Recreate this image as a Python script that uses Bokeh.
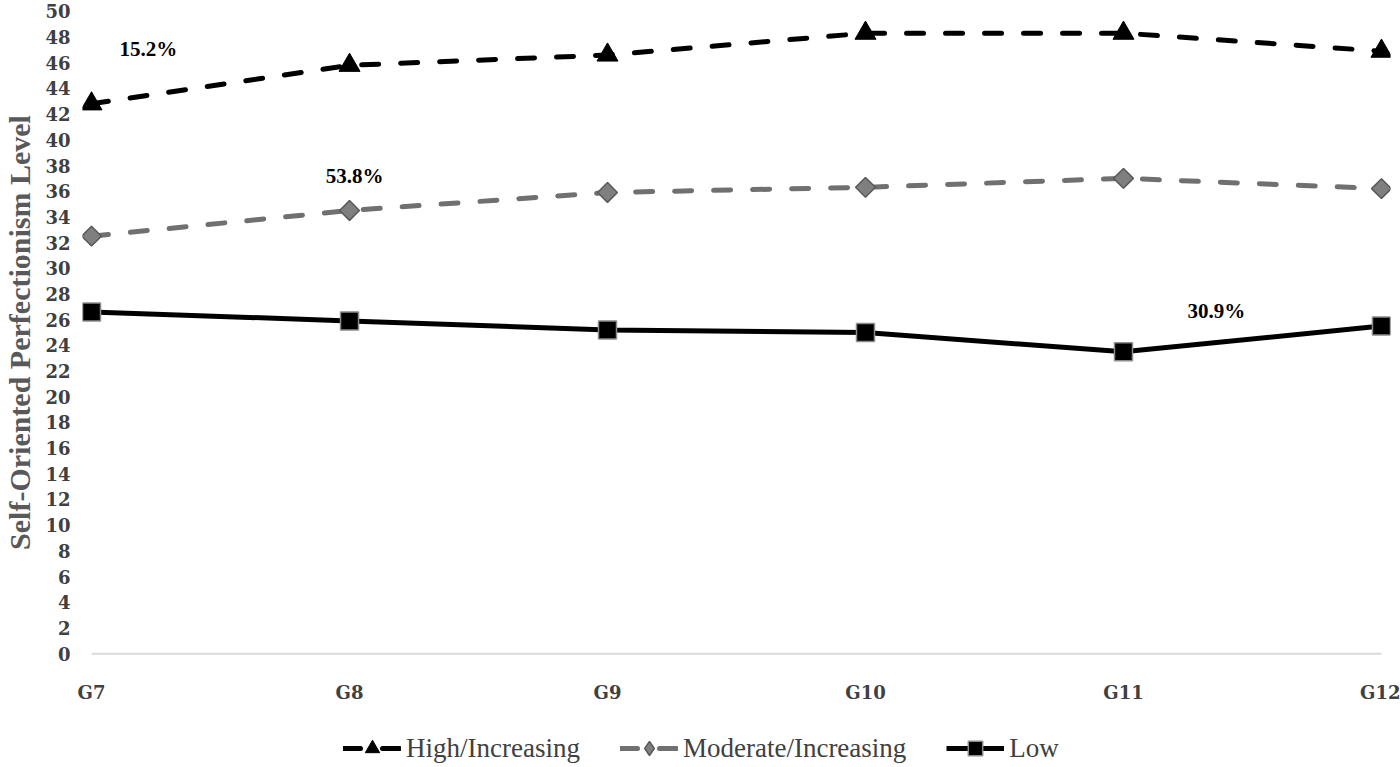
import numpy as np
from bokeh.plotting import figure
from bokeh.layouts import column
from bokeh.models import (Range1d, FixedTicker, Legend, LegendItem, Label)
from bokeh.embed import file_html
from bokeh.resources import INLINE

grades = ["G7", "G8", "G9", "G10", "G11", "G12"]
high_increasing = [42.8, 45.8, 46.6, 48.3, 48.3, 46.9]
moderate_increasing = [32.5, 34.5, 35.9, 36.3, 37.0, 36.2]
low = [26.6, 25.9, 25.2, 25.0, 23.5, 25.5]
series_names = ["High/Increasing", "Moderate/Increasing", "Low"]
class_shares = ["15.2%", "53.8%", "30.9%"]
y_ticks = list(range(0, 51, 2))

xs = list(range(len(grades)))
series = [high_increasing, moderate_increasing, low]

SERIF = "Liberation Serif"
TICK_FONT = "DejaVu Serif"

# styles per series
styles = [
    dict(line=dict(line_color="black", line_width=5, line_dash="17 22", line_cap="round"),
         marker=dict(marker="triangle", size=21, fill_color="black", line_color="black")),
    dict(line=dict(line_color="#707070", line_width=5, line_dash="17 22", line_cap="round"),
         marker=dict(marker="square", angle=np.pi / 4, size=14, fill_color="#7f7f7f",
                     line_color="#595959", line_width=1.5)),
    dict(line=dict(line_color="black", line_width=5),
         marker=dict(marker="square", size=18, fill_color="black", line_color="#8c8c8c",
                     line_width=1.5)),
]
legend_markers = ["triangle", "diamond", "square"]

p = figure(width=1400, height=729, output_backend="svg", toolbar_location=None,
           x_range=Range1d(-0.035, len(grades) - 1 + 0.035),
           y_range=Range1d(-0.3, 50.3),
           min_border_left=79, min_border_right=10, min_border_top=7,
           min_border_bottom=72)
p.outline_line_color = None
p.xgrid.grid_line_color = None
p.ygrid.grid_line_color = None

# axes
p.xaxis.ticker = FixedTicker(ticks=xs)
p.xaxis.major_label_overrides = {i: g for i, g in enumerate(grades)}
p.xaxis.axis_line_color = None
p.xaxis.major_tick_line_color = None
p.xaxis.minor_tick_line_color = None
p.xaxis.major_tick_out = 0
p.xaxis.major_tick_in = 0
p.xaxis.major_label_standoff = 24
p.xaxis.major_label_text_font = TICK_FONT
p.xaxis.major_label_text_font_style = "bold"
p.xaxis.major_label_text_font_size = "18px"
p.xaxis.major_label_text_color = "#404040"

p.yaxis.ticker = FixedTicker(ticks=y_ticks)
p.yaxis.axis_line_color = None
p.yaxis.major_tick_line_color = None
p.yaxis.minor_tick_line_color = None
p.yaxis.major_tick_out = 0
p.yaxis.major_tick_in = 0
p.yaxis.major_label_standoff = 12
p.yaxis.major_label_text_font = TICK_FONT
p.yaxis.major_label_text_font_style = "bold"
p.yaxis.major_label_text_font_size = "18px"
p.yaxis.major_label_text_color = "#404040"
p.yaxis.axis_label = "Self-Oriented Perfectionism Level"
p.yaxis.axis_label_text_font = SERIF
p.yaxis.axis_label_text_font_style = "bold"
p.yaxis.axis_label_text_font_size = "30px"
p.yaxis.axis_label_text_line_height = 0.9
p.yaxis.axis_label_text_color = "#595959"
p.yaxis.axis_label_standoff = 6

# baseline from first to last category
p.line(x=[xs[0], xs[-1]], y=[y_ticks[0], y_ticks[0]], line_color="#d9d9d9", line_width=2)

for vals, st in zip(series, styles):
    p.line(xs, vals, **st["line"])
    p.scatter(xs, vals, **st["marker"])

# class share annotations
label_pos = [(0.22, 47.1), (1.02, 37.2), (4.36, 26.7)]
for txt, (lx, ly) in zip(class_shares, label_pos):
    p.add_layout(Label(x=lx, y=ly, text=txt, text_font=SERIF, text_font_style="bold",
                       text_font_size="21px", text_color="black",
                       text_align="center", text_baseline="middle"))

# legend strip below the chart (series drawn out of view, only the legend shows)
p2 = figure(width=1400, height=38, output_backend="svg", toolbar_location=None,
            x_axis_location=None, y_axis_location=None, min_border=0,
            x_range=Range1d(0, 1), y_range=Range1d(1000, 1001))
p2.outline_line_color = None
p2.grid.visible = False
items = []
for name, vals, st, mk in zip(series_names, series, styles, legend_markers):
    lr = p2.line(xs, vals, **st["line"])
    mstyle = dict(st["marker"])
    mstyle["marker"] = mk
    mstyle.pop("angle", None)
    mr = p2.scatter(xs, vals, **mstyle)
    items.append(LegendItem(label=name, renderers=[lr, mr]))
legend = Legend(items=items, orientation="horizontal", location=(261, 1),
                glyph_width=58, glyph_height=36, label_standoff=5, spacing=40,
                padding=0, margin=0, border_line_color=None, background_fill_alpha=0,
                label_text_font=SERIF, label_text_font_size="27px",
                label_text_color="#404040")
p2.add_layout(legend, "center")

open("out.html", "w").write(file_html(column(p, p2, spacing=0), INLINE))
